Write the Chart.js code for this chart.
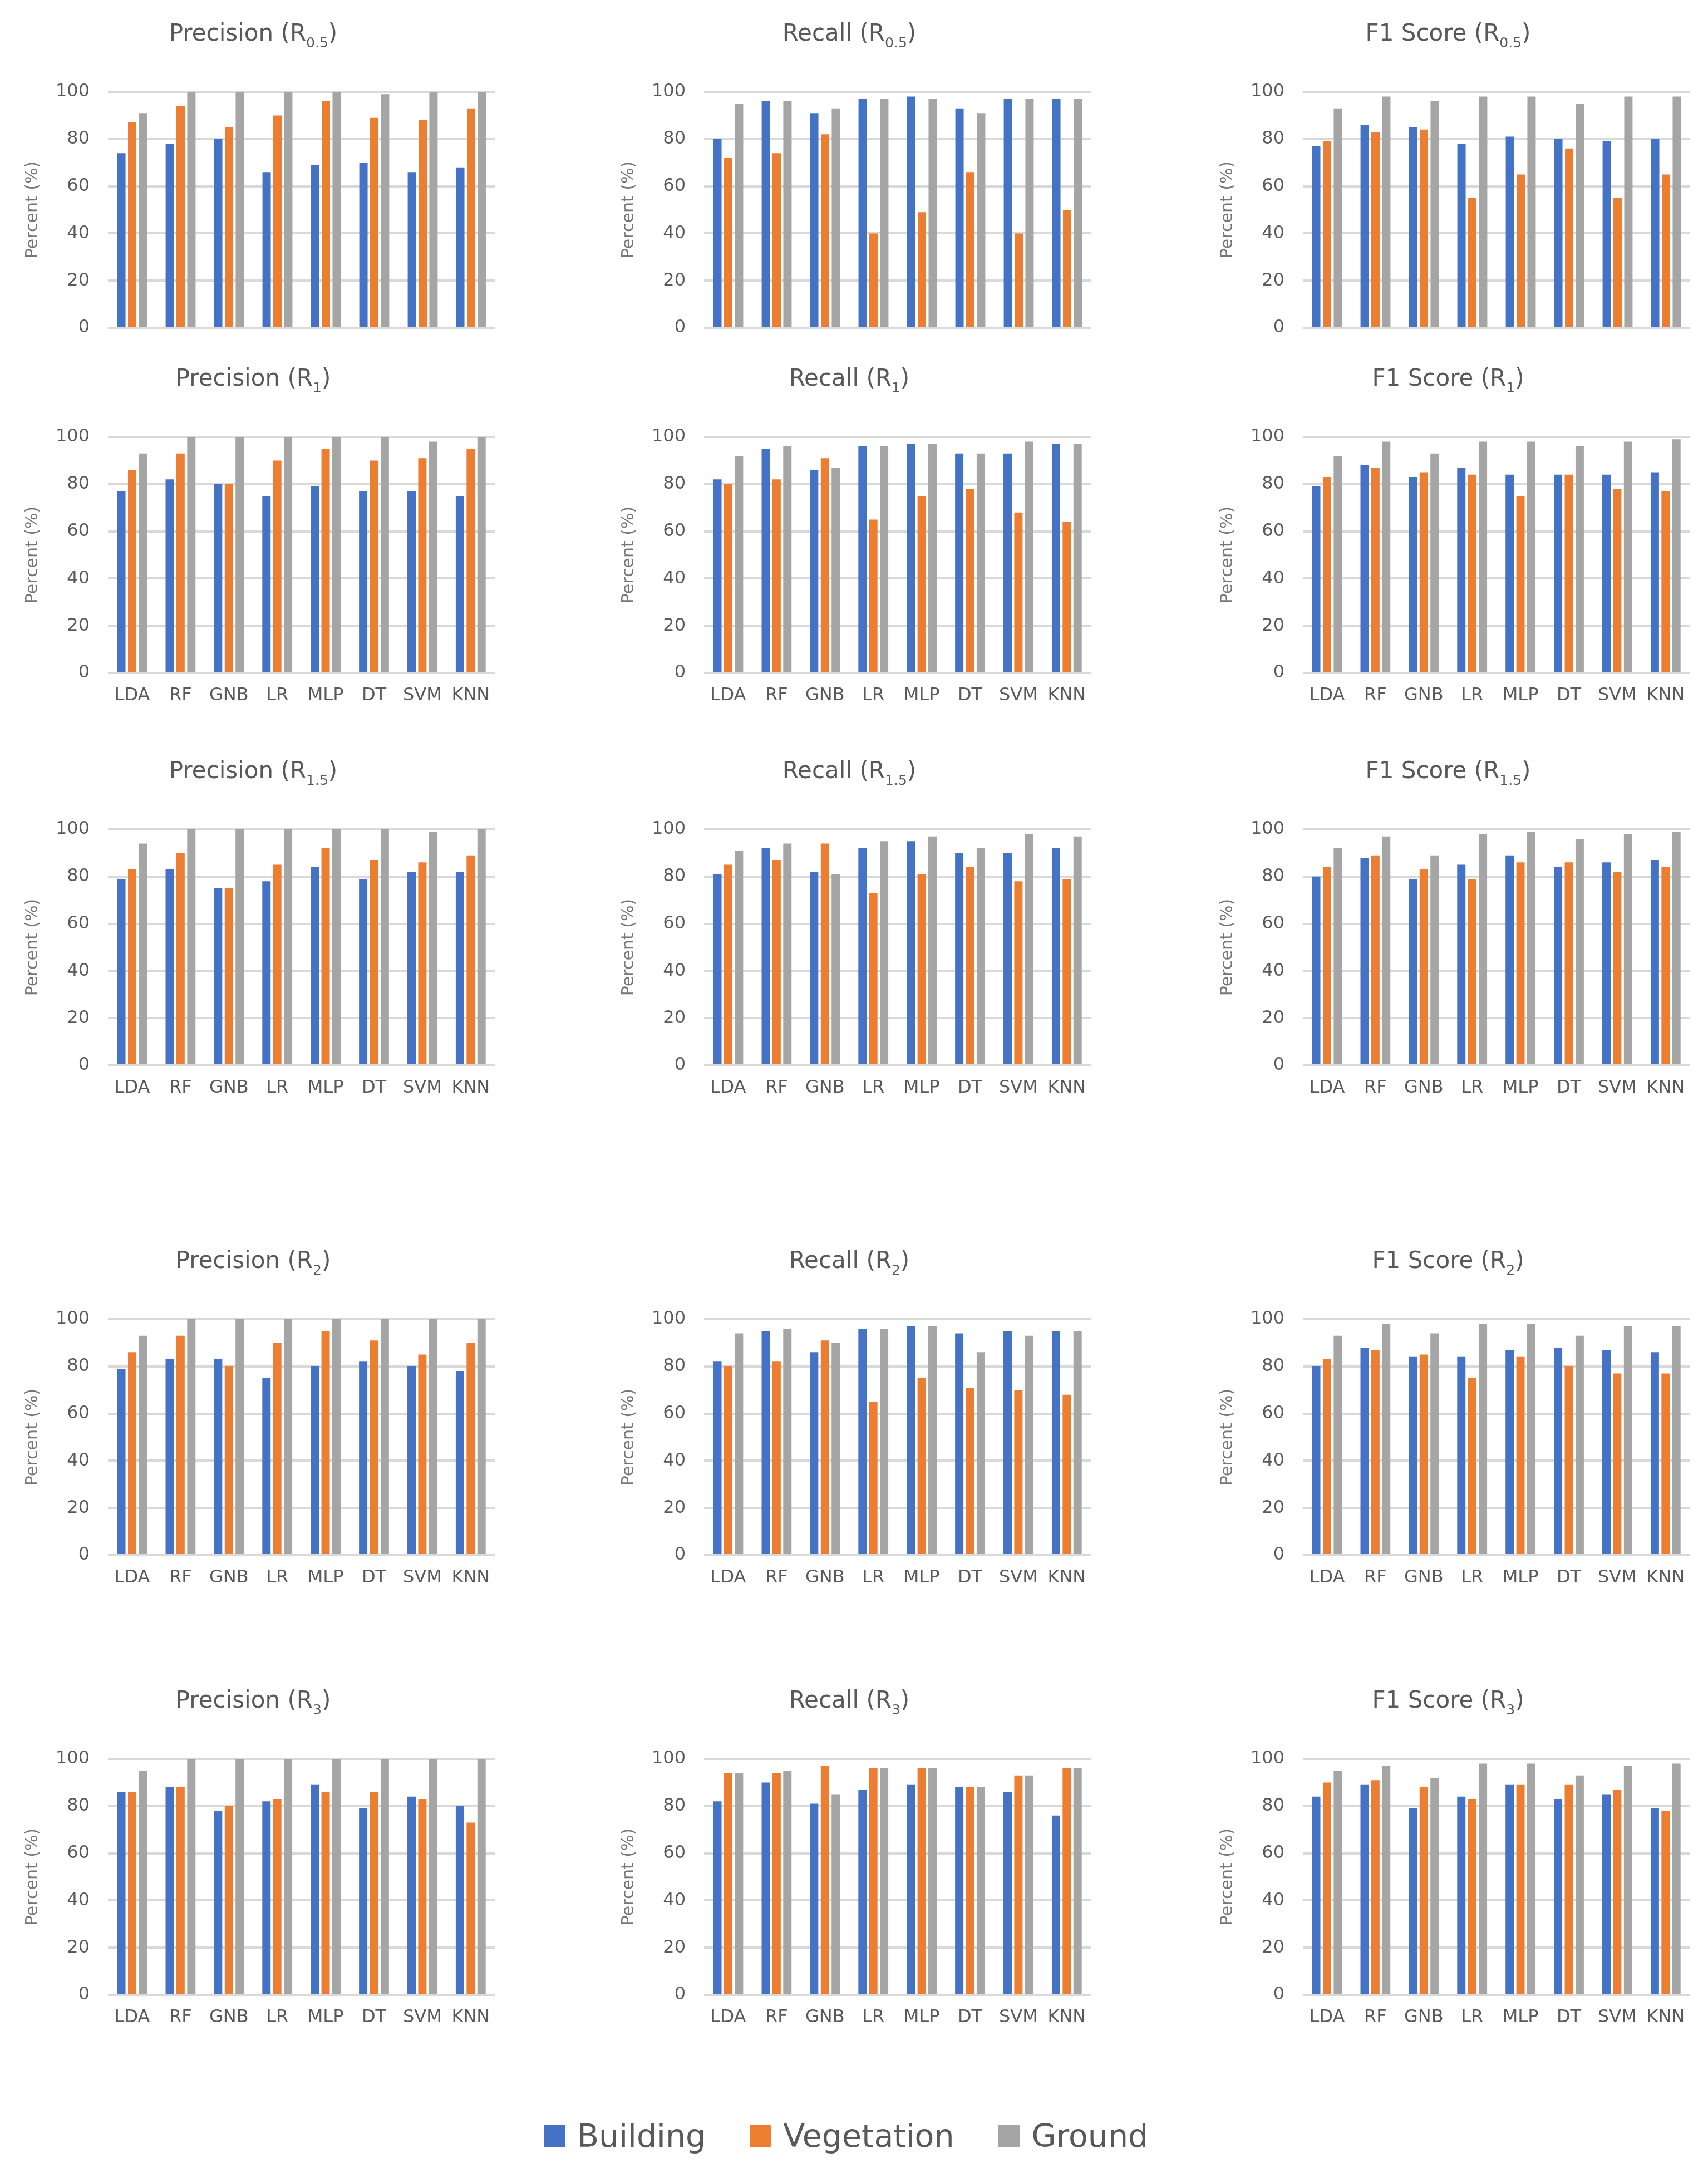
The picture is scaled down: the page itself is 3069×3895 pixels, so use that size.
<!DOCTYPE html>
<html>
<head>
<meta charset="utf-8">
<script src="https://cdn.jsdelivr.net/npm/chart.js@4.4.1/dist/chart.umd.min.js"></script>
<style>
html,body{margin:0;padding:0;background:#fff;}
#page{position:relative;width:3069px;height:3895px;overflow:hidden;background:#fff;}
#page canvas{position:absolute;}
#legend{position:absolute;left:977px;top:3809px;display:flex;align-items:flex-start;font-family:'DejaVu Sans';font-size:57px;line-height:57px;color:#595959;white-space:nowrap;}
#legend .item{display:flex;align-items:flex-start;margin-right:79px;}
#legend .sw{width:39px;height:39px;margin-top:9px;margin-right:21px;}
</style>
</head>
<body>
<div id="page"><div id="legend"></div></div>
<script>
// ---------- data ----------
const categories = ['LDA', 'RF', 'GNB', 'LR', 'MLP', 'DT', 'SVM', 'KNN'];
const seriesNames = ['Building', 'Vegetation', 'Ground'];
const metricNames = ['Precision', 'Recall', 'F1 Score'];
const radiusLabels = ['0.5', '1', '1.5', '2', '3'];
const yTicks = [0, 20, 40, 60, 80, 100];

// each array: [Building, Vegetation, Ground]
const precisionR05 = [[74,78,80,66,69,70,66,68],[87,94,85,90,96,89,88,93],[91,100,100,100,100,99,100,100]];
const recallR05    = [[80,96,91,97,98,93,97,97],[72,74,82,40,49,66,40,50],[95,96,93,97,97,91,97,97]];
const f1R05        = [[77,86,85,78,81,80,79,80],[79,83,84,55,65,76,55,65],[93,98,96,98,98,95,98,98]];

const precisionR1  = [[77,82,80,75,79,77,77,75],[86,93,80,90,95,90,91,95],[93,100,100,100,100,100,98,100]];
const recallR1     = [[82,95,86,96,97,93,93,97],[80,82,91,65,75,78,68,64],[92,96,87,96,97,93,98,97]];
const f1R1         = [[79,88,83,87,84,84,84,85],[83,87,85,84,75,84,78,77],[92,98,93,98,98,96,98,99]];

const precisionR15 = [[79,83,75,78,84,79,82,82],[83,90,75,85,92,87,86,89],[94,100,100,100,100,100,99,100]];
const recallR15    = [[81,92,82,92,95,90,90,92],[85,87,94,73,81,84,78,79],[91,94,81,95,97,92,98,97]];
const f1R15        = [[80,88,79,85,89,84,86,87],[84,89,83,79,86,86,82,84],[92,97,89,98,99,96,98,99]];

const precisionR2  = [[79,83,83,75,80,82,80,78],[86,93,80,90,95,91,85,90],[93,100,100,100,100,100,100,100]];
const recallR2     = [[82,95,86,96,97,94,95,95],[80,82,91,65,75,71,70,68],[94,96,90,96,97,86,93,95]];
const f1R2         = [[80,88,84,84,87,88,87,86],[83,87,85,75,84,80,77,77],[93,98,94,98,98,93,97,97]];

const precisionR3  = [[86,88,78,82,89,79,84,80],[86,88,80,83,86,86,83,73],[95,100,100,100,100,100,100,100]];
const recallR3     = [[82,90,81,87,89,88,86,76],[94,94,97,96,96,88,93,96],[94,95,85,96,96,88,93,96]];
const f1R3         = [[84,89,79,84,89,83,85,79],[90,91,88,83,89,89,87,78],[95,97,92,98,98,93,97,98]];

const panelData = [
  [precisionR05, recallR05, f1R05],
  [precisionR1, recallR1, f1R1],
  [precisionR15, recallR15, f1R15],
  [precisionR2, recallR2, f1R2],
  [precisionR3, recallR3, f1R3]
];

// ---------- style / layout ----------
const seriesColors = ['#4472C4', '#ED7D31', '#A5A5A5'];
const TEXT = '#595959';
const FONT = 'DejaVu Sans';
const PLOT_LEFT = [194, 1265, 2341];
const PLOT_TOP = [165, 785, 1490, 2370, 3160];
const PLOT_W = 696, PLOT_H = 424;
const AXIS_W = 194, PAD_TOP = 130, PAD_RIGHT = 12, XAXIS_H = 80;

const titlePlugin = {
  id: 'panelTitle',
  afterDraw(chart, args, opts) {
    const ctx = chart.ctx;
    const mainFont = '42px "' + FONT + '"';
    const subFont = '25px "' + FONT + '"';
    ctx.save();
    ctx.fillStyle = TEXT;
    ctx.textAlign = 'left';
    ctx.textBaseline = 'alphabetic';
    ctx.font = mainFont;
    const w1 = ctx.measureText(opts.main).width;
    const w3 = ctx.measureText(')').width;
    ctx.font = subFont;
    const w2 = ctx.measureText(opts.sub).width;
    let x = chart.width / 2 + 4 - (w1 + w2 + w3) / 2;
    const y = chart.chartArea.top - 92;
    ctx.font = mainFont; ctx.fillText(opts.main, x, y); x += w1;
    ctx.font = subFont; ctx.fillText(opts.sub, x, y + 12); x += w2;
    ctx.font = mainFont; ctx.fillText(')', x, y);
    ctx.restore();
  }
};

const page = document.getElementById('page');

function makeChart(row, col) {
  const W = AXIS_W + PLOT_W + PAD_RIGHT;
  const H = PAD_TOP + PLOT_H + XAXIS_H;
  const canvas = document.createElement('canvas');
  canvas.width = W; canvas.height = H;
  canvas.style.width = W + 'px'; canvas.style.height = H + 'px';
  canvas.style.left = (PLOT_LEFT[col] - AXIS_W) + 'px';
  canvas.style.top = (PLOT_TOP[row] - PAD_TOP) + 'px';
  page.appendChild(canvas);
  const values = panelData[row][col];
  new Chart(canvas, {
    type: 'bar',
    data: {
      labels: categories,
      datasets: seriesNames.map((name, i) => ({
        label: name,
        data: values[i],
        backgroundColor: seriesColors[i],
        borderWidth: 0,
        barPercentage: 0.77,
        categoryPercentage: 0.67
      }))
    },
    options: {
      responsive: false,
      animation: false,
      devicePixelRatio: 1,
      layout: { padding: { top: PAD_TOP, right: PAD_RIGHT, bottom: 0, left: 0 } },
      plugins: {
        legend: { display: false },
        tooltip: { enabled: false },
        panelTitle: { main: metricNames[col] + ' (R', sub: radiusLabels[row] }
      },
      scales: {
        x: {
          grid: { display: false, drawTicks: false },
          border: { display: false },
          ticks: {
            display: row > 0,
            font: { family: FONT, size: 32 },
            color: TEXT,
            padding: 21,
            maxRotation: 0, minRotation: 0, autoSkip: false
          },
          afterFit: s => { s.height = XAXIS_H; }
        },
        y: {
          min: yTicks[0], max: yTicks[yTicks.length - 1],
          afterBuildTicks: s => { s.ticks = yTicks.map(v => ({ value: v })); },
          ticks: { font: { family: FONT, size: 32 }, color: TEXT, padding: 33 },
          grid: { color: '#D9D9D9', lineWidth: 4, drawTicks: false },
          border: { display: false },
          title: {
            display: true,
            text: 'Percent (%)',
            font: { family: FONT, size: 30 },
            color: '#767676',
            padding: { top: 41, bottom: 0 }
          },
          afterFit: s => { s.width = AXIS_W; }
        }
      }
    },
    plugins: [titlePlugin]
  });
}

for (let r = 0; r < panelData.length; r++) {
  for (let c = 0; c < 3; c++) makeChart(r, c);
}

// legend
const legend = document.getElementById('legend');
seriesNames.forEach((name, i) => {
  const item = document.createElement('div');
  item.className = 'item';
  const sw = document.createElement('div');
  sw.className = 'sw';
  sw.style.background = seriesColors[i];
  const label = document.createElement('span');
  label.textContent = name;
  item.appendChild(sw); item.appendChild(label);
  legend.appendChild(item);
});
</script>
</body>
</html>
